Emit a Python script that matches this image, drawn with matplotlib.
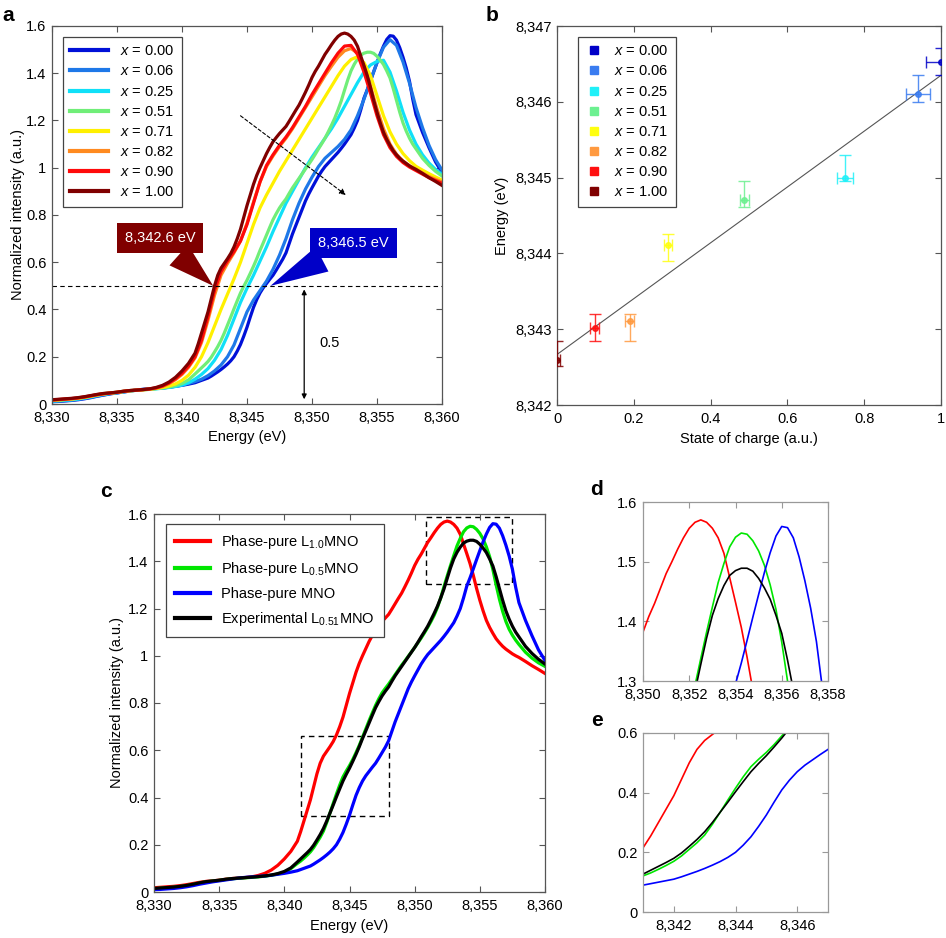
import numpy as np
import matplotlib
matplotlib.use('Agg')
import matplotlib.pyplot as plt
from matplotlib.ticker import FuncFormatter, MultipleLocator
from matplotlib.patches import Rectangle
from matplotlib.lines import Line2D

plt.rcParams['font.family'] = ['Liberation Sans', 'DejaVu Sans']
plt.rcParams['mathtext.fontset'] = 'custom'
plt.rcParams['mathtext.rm'] = 'Liberation Sans'
plt.rcParams['mathtext.it'] = 'Liberation Sans:italic'
plt.rcParams['font.size'] = 10.5

# energy grid of the spectra: 0.5 eV steps, 0.25 eV across the edge/peak
energy = np.arange(8330, 8360.01, 0.5)
energy_fine = np.concatenate([np.arange(8330, 8341, 0.5),
                              np.arange(8341, 8358, 0.25),
                              np.arange(8358, 8360.01, 0.5)])

# --- spectra on the fine grid (shown in panels a, c, d, e) ---
x000 = [0.010, 0.011, 0.013, 0.015, 0.018, 0.022, 0.027, 0.033, 0.038, 0.043, 0.047,
        0.051, 0.055, 0.059, 0.062, 0.064, 0.066, 0.068, 0.071, 0.075, 0.079, 0.084,
        0.090, 0.095, 0.100, 0.105,
        0.110, 0.118, 0.127, 0.136,
        0.146, 0.157, 0.169, 0.183,
        0.200, 0.224, 0.252, 0.287,
        0.325, 0.368, 0.409, 0.442,
        0.470, 0.492, 0.510, 0.528,
        0.545, 0.567, 0.590, 0.613,
        0.640, 0.680, 0.720, 0.755,
        0.790, 0.825, 0.860, 0.889,
        0.915, 0.940, 0.965, 0.986,
        1.005, 1.020, 1.035, 1.050,
        1.065, 1.082, 1.100, 1.120,
        1.140, 1.168, 1.200, 1.245,
        1.295, 1.330, 1.368, 1.407,
        1.445, 1.482, 1.515, 1.543,
        1.559, 1.557, 1.540, 1.508,
        1.468, 1.422, 1.366, 1.290,
        1.225, 1.150, 1.085, 1.025, 0.980]
x051 = [0.015, 0.017, 0.019, 0.021, 0.024, 0.028, 0.033, 0.039, 0.044, 0.047, 0.050,
        0.054, 0.057, 0.059, 0.061, 0.063, 0.065, 0.068, 0.072, 0.078, 0.087, 0.102,
        0.127, 0.140, 0.153, 0.166,
        0.180, 0.198, 0.220, 0.243,
        0.269, 0.300, 0.334, 0.368,
        0.403, 0.437, 0.470, 0.498,
        0.524, 0.553, 0.583, 0.615,
        0.650, 0.682, 0.715, 0.748,
        0.780, 0.806, 0.830, 0.850,
        0.868, 0.892, 0.915, 0.935,
        0.955, 0.975, 0.995, 1.015,
        1.035, 1.057, 1.080, 1.102,
        1.125, 1.152, 1.180, 1.210,
        1.245, 1.283, 1.328, 1.372,
        1.410, 1.438, 1.460, 1.477,
        1.485, 1.489, 1.489, 1.484,
        1.472, 1.456, 1.437, 1.410,
        1.380, 1.335, 1.285, 1.235,
        1.190, 1.155, 1.125, 1.100,
        1.080, 1.040, 1.010, 0.985, 0.965]
x100 = [0.018, 0.020, 0.022, 0.024, 0.027, 0.031, 0.036, 0.041, 0.045, 0.047, 0.050,
        0.054, 0.057, 0.059, 0.061, 0.064, 0.070, 0.079, 0.093, 0.113, 0.140, 0.172,
        0.215, 0.255, 0.300, 0.345,
        0.390, 0.445, 0.500, 0.545,
        0.575, 0.595, 0.615, 0.637,
        0.665, 0.700, 0.740, 0.790,
        0.840, 0.885, 0.930, 0.968,
        1.000, 1.030, 1.060, 1.086,
        1.110, 1.128, 1.145, 1.160,
        1.175, 1.197, 1.220, 1.243,
        1.265, 1.292, 1.320, 1.350,
        1.382, 1.408, 1.430, 1.455,
        1.480, 1.500, 1.521, 1.540,
        1.556, 1.566, 1.570, 1.566,
        1.556, 1.540, 1.514, 1.473,
        1.432, 1.390, 1.340, 1.285,
        1.235, 1.190, 1.150, 1.120,
        1.095, 1.072, 1.055, 1.040,
        1.028, 1.018, 1.008, 1.000,
        0.993, 0.976, 0.958, 0.942, 0.925]
# phase-pure L0.5MNO reference (panel c, green)
l05 = [0.014, 0.016, 0.018, 0.020, 0.023, 0.027, 0.032, 0.038, 0.043, 0.046, 0.049,
       0.053, 0.056, 0.058, 0.060, 0.062, 0.064, 0.067, 0.071, 0.076, 0.084, 0.099,
       0.121, 0.131, 0.143, 0.156,
       0.170, 0.188, 0.210, 0.232,
       0.258, 0.294, 0.334, 0.375,
       0.415, 0.453, 0.487, 0.512,
       0.535, 0.561, 0.590, 0.621,
       0.655, 0.690, 0.725, 0.758,
       0.790, 0.818, 0.843, 0.862,
       0.880, 0.900, 0.920, 0.940,
       0.960, 0.978, 0.997, 1.016,
       1.035, 1.055, 1.075, 1.097,
       1.120, 1.145, 1.172, 1.205,
       1.245, 1.293, 1.338, 1.382,
       1.424, 1.465, 1.497, 1.525,
       1.541, 1.548, 1.546, 1.535,
       1.518, 1.494, 1.461, 1.420,
       1.365, 1.300, 1.240, 1.188,
       1.145, 1.112, 1.087, 1.066,
       1.048, 1.015, 0.990, 0.970, 0.955]

# --- spectra on the 0.5 eV grid (panel a only) ---
x006 = [0.010, 0.012, 0.014, 0.016, 0.020, 0.024, 0.029, 0.034, 0.039, 0.044,
        0.047, 0.051, 0.055, 0.059, 0.062, 0.064, 0.066, 0.068, 0.071, 0.075,
        0.080, 0.087, 0.095, 0.105, 0.120, 0.140, 0.165, 0.200, 0.250, 0.320,
        0.390, 0.440, 0.480, 0.520, 0.570, 0.630, 0.700, 0.780, 0.850, 0.910,
        0.960, 1.005, 1.040, 1.065, 1.090, 1.120, 1.160, 1.220, 1.290, 1.370,
        1.445, 1.510, 1.542, 1.518, 1.448, 1.358, 1.255, 1.170, 1.095, 1.035,
        0.990]
x025 = [0.012, 0.014, 0.016, 0.018, 0.021, 0.025, 0.030, 0.036, 0.041, 0.045,
        0.048, 0.052, 0.055, 0.058, 0.060, 0.062, 0.064, 0.067, 0.070, 0.074,
        0.080, 0.090, 0.105, 0.125, 0.150, 0.185, 0.230, 0.290, 0.360, 0.430,
        0.490, 0.545, 0.605, 0.665, 0.730, 0.790, 0.850, 0.900, 0.950, 1.000,
        1.045, 1.085, 1.125, 1.165, 1.210, 1.260, 1.310, 1.360, 1.405, 1.435,
        1.450, 1.455, 1.405, 1.325, 1.235, 1.160, 1.100, 1.055, 1.020, 0.993,
        0.972]
x071 = [0.015, 0.017, 0.019, 0.021, 0.024, 0.028, 0.033, 0.038, 0.043, 0.046,
        0.049, 0.053, 0.056, 0.058, 0.060, 0.062, 0.066, 0.070, 0.076, 0.085,
        0.100, 0.122, 0.155, 0.200, 0.260, 0.330, 0.400, 0.465, 0.530, 0.600,
        0.680, 0.760, 0.830, 0.885, 0.935, 0.985, 1.030, 1.075, 1.120, 1.165,
        1.210, 1.255, 1.300, 1.345, 1.390, 1.430, 1.458, 1.470, 1.445, 1.390,
        1.305, 1.220, 1.152, 1.100, 1.060, 1.030, 1.006, 0.990, 0.975, 0.961,
        0.948]
x082 = [0.016, 0.018, 0.020, 0.022, 0.025, 0.029, 0.034, 0.039, 0.043, 0.046,
        0.049, 0.053, 0.056, 0.058, 0.060, 0.063, 0.067, 0.074, 0.086, 0.103,
        0.125, 0.155, 0.195, 0.260, 0.355, 0.460, 0.545, 0.595, 0.640, 0.690,
        0.765, 0.855, 0.940, 1.005, 1.050, 1.090, 1.125, 1.165, 1.210, 1.255,
        1.300, 1.345, 1.390, 1.430, 1.468, 1.495, 1.505, 1.485, 1.430, 1.345,
        1.250, 1.165, 1.100, 1.057, 1.028, 1.008, 0.993, 0.978, 0.963, 0.951,
        0.940]
x090 = [0.017, 0.019, 0.021, 0.023, 0.026, 0.030, 0.035, 0.040, 0.044, 0.047,
        0.050, 0.054, 0.057, 0.059, 0.061, 0.064, 0.068, 0.076, 0.089, 0.107,
        0.130, 0.160, 0.200, 0.270, 0.370, 0.480, 0.560, 0.605, 0.645, 0.690,
        0.760, 0.850, 0.940, 1.010, 1.055, 1.095, 1.130, 1.170, 1.215, 1.260,
        1.310, 1.355, 1.400, 1.445, 1.485, 1.515, 1.518, 1.480, 1.405, 1.315,
        1.220, 1.140, 1.085, 1.048, 1.022, 1.003, 0.988, 0.973, 0.958, 0.946,
        0.934]

x_labels = ['0.00', '0.06', '0.25', '0.51', '0.71', '0.82', '0.90', '1.00']
spectra = [(energy_fine, x000), (energy, x006), (energy, x025), (energy_fine, x051),
           (energy, x071), (energy, x082), (energy, x090), (energy_fine, x100)]
colors_a = ['#0010d8', '#1e78e8', '#10e0f8', '#70ee78', '#fff000', '#ff8a20', '#ff0a0a', '#800000']
colors_b = ['#0000c8', '#3a7cf0', '#20f0f8', '#6cf090', '#ffff10', '#ff9a40', '#ff1010', '#800000']

# panel b: edge position vs state of charge
soc = [1.0, 0.941, 0.75, 0.488, 0.289, 0.189, 0.098, 0.0]
edge = [8346.52, 8346.10, 8345.00, 8344.71, 8344.11, 8343.11, 8343.01, 8342.60]
soc_err = [0.04, 0.031, 0.021, 0.011, 0.011, 0.011, 0.011, 0.009]
edge_up = [0.19, 0.25, 0.30, 0.24, 0.14, 0.09, 0.19, 0.25]
edge_dn = [0.17, 0.10, 0.05, 0.10, 0.21, 0.26, 0.16, 0.09]

e_ticks = [8330, 8335, 8340, 8345, 8350, 8355, 8360]

comma = FuncFormatter(lambda v, p: f'{v:,.0f}')
short = FuncFormatter(lambda v, p: f'{v:g}')


def style(ax, spine='#555555'):
    ax.tick_params(direction='in', top=True, right=True, length=4, width=0.8,
                   color=spine, labelsize=10.5)
    ax.tick_params(axis='x', pad=5)
    ax.tick_params(axis='y', pad=4)
    for s in ax.spines.values():
        s.set_color(spine)
        s.set_linewidth(0.9)


W, H = 946, 938
fig = plt.figure(figsize=(W / 100, H / 100), dpi=100)


def box(l, t, r, b):
    return [l / W, 1 - b / H, (r - l) / W, (b - t) / H]


# ---------------- a ----------------
ax = fig.add_axes(box(52, 26, 442, 404))
for (xs, ys), c, lab in zip(spectra, colors_a, x_labels):
    ax.plot(xs, ys, color=c, lw=2.3, label=f'$x$ = {lab}')
ax.set_xlim(8330, 8360)
ax.set_ylim(0, 1.6)
ax.set_xticks(e_ticks)
ax.yaxis.set_major_locator(MultipleLocator(0.2))
ax.xaxis.set_major_formatter(comma)
ax.yaxis.set_major_formatter(short)
style(ax)
ax.set_xlabel('Energy (eV)', fontsize=10.5)
ax.set_ylabel('Normalized intensity (a.u.)', fontsize=10.5, labelpad=1)
leg = ax.legend(loc='upper left', fontsize=10.5, handlelength=2.6, labelspacing=0.42,
                borderpad=0.5, fancybox=False, edgecolor='#444', framealpha=1,
                bbox_to_anchor=(0.01, 0.99))
leg.get_frame().set_linewidth(0.9)
for ln in leg.get_lines():
    ln.set_linewidth(3)

ax.axhline(0.5, color='k', ls='--', lw=0.8, dashes=(4, 3))
ax.annotate('', xy=(8349.4, 0.02), xytext=(8349.4, 0.485),
            arrowprops=dict(arrowstyle='<|-|>', color='k', lw=0.9, mutation_scale=7,
                            shrinkA=0, shrinkB=0))
ax.text(8350.6, 0.26, '0.5', fontsize=10.5, va='center')
ax.annotate('', xy=(8352.6, 0.885), xytext=(8344.5, 1.22),
            arrowprops=dict(arrowstyle='-|>', color='k', lw=0.8, ls=(0, (3, 2)),
                            mutation_scale=9, shrinkA=0, shrinkB=0))
ax.annotate('8,342.6 eV', xy=(8342.4, 0.5), xytext=(8338.3, 0.702),
            ha='center', va='center', color='white', fontsize=10.5,
            bbox=dict(boxstyle='square,pad=0.55', fc='#800000', ec='none'),
            arrowprops=dict(arrowstyle='wedge,tail_width=2.0,shrink_factor=0.5',
                            fc='#800000', ec='none', mutation_scale=10, shrinkB=0))
ax.annotate('8,346.5 eV', xy=(8346.8, 0.5), xytext=(8353.2, 0.682),
            ha='center', va='center', color='white', fontsize=10.5,
            bbox=dict(boxstyle='square,pad=0.55', fc='#0000c8', ec='none'),
            arrowprops=dict(arrowstyle='wedge,tail_width=2.0,shrink_factor=0.5',
                            fc='#0000c8', ec='none', mutation_scale=10, shrinkB=0))

# ---------------- b ----------------
ax = fig.add_axes(box(557, 26, 941, 405))
coef = np.polyfit(soc, edge, 1)
fit_x = np.array([0.0, 1.0])
ax.plot(fit_x, np.polyval(coef, fit_x), color='#555555', lw=0.8, zorder=1)
for i in range(len(soc)):
    ax.errorbar(soc[i], edge[i], yerr=[[edge_dn[i]], [edge_up[i]]], xerr=soc_err[i],
                fmt='o', ms=4, color=colors_b[i], ecolor=colors_b[i], elinewidth=1,
                capsize=4, capthick=1, alpha=0.85, zorder=3)
ax.set_xlim(0, 1)
ax.set_ylim(8342, 8347)
ax.xaxis.set_major_locator(MultipleLocator(0.2))
ax.yaxis.set_major_locator(MultipleLocator(1))
ax.xaxis.set_major_formatter(short)
ax.yaxis.set_major_formatter(comma)
style(ax)
ax.set_xlabel('State of charge (a.u.)', fontsize=10.5)
ax.set_ylabel('Energy (eV)', fontsize=10.5)
handles = [Line2D([], [], marker='s', ls='none', color=c, ms=5.5) for c in colors_b]
leg = ax.legend(handles, [f'$x$ = {lab}' for lab in x_labels], loc='upper left',
                fontsize=10.5, handlelength=1.2, labelspacing=0.42, borderpad=0.5,
                fancybox=False, edgecolor='#444', framealpha=1,
                bbox_to_anchor=(0.035, 0.99))
leg.get_frame().set_linewidth(0.9)

# ---------------- c ----------------
ax = fig.add_axes(box(154, 514, 545, 892))
c_series = [(x100, '#ff0000', 'Phase-pure L$_{1.0}$MNO'),
            (l05, '#00e600', 'Phase-pure L$_{0.5}$MNO'),
            (x000, '#0000ff', 'Phase-pure MNO'),
            (x051, '#000000', 'Experimental L$_{0.51}$MNO')]
for ys, c, lab in c_series:
    ax.plot(energy_fine, ys, color=c, lw=2.3, label=lab)
ax.add_patch(Rectangle((8341.3, 0.323), 6.7, 0.338, fill=False, ec='k', lw=1, ls=(0, (4, 3))))
ax.add_patch(Rectangle((8350.9, 1.302), 6.6, 0.286, fill=False, ec='k', lw=1, ls=(0, (4, 3))))
ax.set_xlim(8330, 8360)
ax.set_ylim(0, 1.6)
ax.set_xticks(e_ticks)
ax.yaxis.set_major_locator(MultipleLocator(0.2))
ax.xaxis.set_major_formatter(comma)
ax.yaxis.set_major_formatter(short)
style(ax)
ax.set_xlabel('Energy (eV)', fontsize=10.5)
ax.set_ylabel('Normalized intensity (a.u.)', fontsize=10.5, labelpad=3)
leg = ax.legend(loc='upper left', fontsize=10.5, handlelength=2.4, labelspacing=0.62,
                borderpad=0.6, fancybox=False, edgecolor='#444', framealpha=1,
                bbox_to_anchor=(0.012, 0.993))
leg.get_frame().set_linewidth(0.9)
for ln in leg.get_lines():
    ln.set_linewidth(3)

# ---------------- d / e ----------------
for rect, xl, yl, xt, yt in [
        ((643, 502, 828, 681), (8350, 8358), (1.3, 1.6), [8350, 8352, 8354, 8356, 8358], [1.3, 1.4, 1.5, 1.6]),
        ((643, 733, 828, 912), (8341, 8347), (0, 0.6), [8342, 8344, 8346], [0, 0.2, 0.4, 0.6])]:
    ax = fig.add_axes(box(*rect))
    for ys, c, lab in c_series:
        ax.plot(energy_fine, ys, color=c, lw=1.2)
    ax.set_xlim(*xl)
    ax.set_ylim(*yl)
    ax.set_xticks(xt)
    ax.set_yticks(yt)
    ax.xaxis.set_major_formatter(comma)
    ax.yaxis.set_major_formatter(short)
    style(ax, spine='#999999')

for s, x, y in [('a', 2, 6), ('b', 486, 6), ('c', 100, 482), ('d', 590, 480), ('e', 591, 711)]:
    fig.text(x / W, 1 - y / H, s, fontsize=15, fontweight='bold', va='top', ha='left')

fig.savefig('out.png', dpi=100)
